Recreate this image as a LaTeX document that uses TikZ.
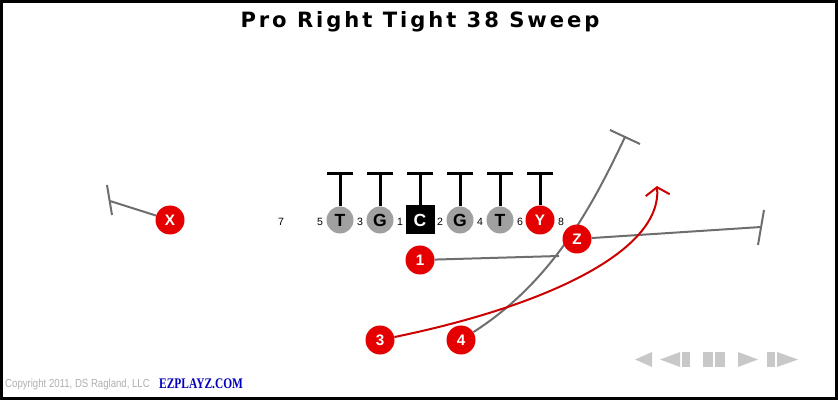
\documentclass[tikz,border=0pt]{standalone}
\usepackage{fontspec}
\setmainfont{Liberation Sans}
\newfontfamily\titlefont[LetterSpace=14]{DejaVu Sans}
\newfontfamily\narrowfont[FakeStretch=0.82]{Liberation Sans}
\newfontfamily\ezfont[FakeStretch=0.78]{Liberation Serif}
\usetikzlibrary{arrows.meta,backgrounds}
\definecolor{playred}{RGB}{228,0,0}
\definecolor{manGray}{RGB}{160,160,160}
\definecolor{routeGray}{RGB}{110,110,110}
\definecolor{iconGray}{RGB}{200,200,200}
\definecolor{copyGray}{RGB}{175,175,175}
\definecolor{ezBlue}{RGB}{0,0,190}
\begin{document}
\begin{tikzpicture}[x=0.03cm,y=-0.03cm,
    redman/.style={circle, fill=playred, text=white, inner sep=0pt, minimum size=0.87cm,
        font=\bfseries\fontsize{13}{13}\selectfont},
    lineman/.style={circle, fill=manGray, text=black, inner sep=0pt, minimum size=0.81cm,
        font=\bfseries\fontsize{15}{15}\selectfont},
    center/.style={rectangle, fill=black, text=white, inner sep=0pt, minimum size=0.87cm,
        font=\bfseries\fontsize{15}{15}\selectfont},
    gapnum/.style={font=\fontsize{9}{9}\selectfont, inner sep=0pt},
    block/.style={line width=0.09cm},
    route/.style={draw=routeGray, line width=0.06cm},
    redroute/.style={draw=playred!90!black, line width=0.06cm, -{Straight Barb[length=0.24cm, width=0.72cm]}},
    icon/.style={fill=iconGray}]
\useasboundingbox (0,0) rectangle (838,400);
\draw[line width=0.09cm] (1.5,1.5) rectangle (836.5,398.5);

\node[font=\titlefont\bfseries\fontsize{18}{18}\selectfont] (title) at (420,22) {Pro Right Tight 38 Sweep};

\node[lineman] (LT) at (340,220) {T};
\node[lineman] (LG) at (380,220) {G};
\node[center] (C) at (420,220) {C};
\node[lineman] (RG) at (460,220) {G};
\node[lineman] (RT) at (500,220) {T};
\node[redman] (Y) at (540,220) {Y};
\node[redman] (X) at (170,220) {X};
\node[redman] (Z) at (577,239) {Z};
\node[redman] (n1) at (420,260) {1};
\node[redman] (n3) at (380,340) {3};
\node[redman] (n4) at (461,340) {4};

\node[gapnum] (g7) at (281,222) {7};
\node[gapnum] (g5) at (320,222) {5};
\node[gapnum] (g3) at (360,222) {3};
\node[gapnum] (g1) at (400,222) {1};
\node[gapnum] (g2) at (440,222) {2};
\node[gapnum] (g4) at (480,222) {4};
\node[gapnum] (g6) at (520,222) {6};
\node[gapnum] (g8) at (561,222) {8};

\coordinate (bLT) at (340,174);
\coordinate (bLG) at (380,174);
\coordinate (bC) at (420,174);
\coordinate (bRG) at (460,174);
\coordinate (bRT) at (500,174);
\coordinate (bY) at (540,174);
\draw[block] (LT) -- (bLT) +(-13,0) -- +(13,0);
\draw[block] (LG) -- (bLG) +(-13,0) -- +(13,0);
\draw[block] (C) -- (bC) +(-13,0) -- +(13,0);
\draw[block] (RG) -- (bRG) +(-13,0) -- +(13,0);
\draw[block] (RT) -- (bRT) +(-13,0) -- +(13,0);
\draw[block] (Y) -- (bY) +(-13,0) -- +(13,0);

\coordinate (eX) at (110,201);
\coordinate (eZ) at (761,227);
\coordinate (e1) at (559,256);
\coordinate (e3) at (657,186);
\coordinate (e4) at (625,137);
\begin{scope}[on background layer]
    \draw[route] (X) -- (eX) +(-3,-16) -- +(2,14);
    \draw[route] (Z) -- (eZ) +(3,-17) -- +(-3,18);
    \draw[route] (n1) -- (e1);
    \draw[route] (n4) .. controls (555,280) and (595,200) .. (e4) +(-15,-7) -- +(15,7);
    \draw[redroute] (n3) .. controls (550,305) and (662,250) .. (e3);
\end{scope}

\fill[icon] (635,359.5) -- (652,352) -- (652,367) -- cycle;
\fill[icon] (660,359.5) -- (680,352) -- (680,367) -- cycle;
\fill[icon] (682,352) rectangle (690,367);
\fill[icon] (703,352) rectangle (713,367);
\fill[icon] (715,352) rectangle (725,367);
\fill[icon] (738,352) -- (758,359.5) -- (738,367) -- cycle;
\fill[icon] (767,352) rectangle (775,367);
\fill[icon] (777,352) -- (798,359.5) -- (777,367) -- cycle;

\node[anchor=west, text=copyGray, font=\narrowfont\fontsize{10}{10}\selectfont, inner sep=0pt] (copy) at (5,384) {Copyright 2011, DS Ragland, LLC};
\node[anchor=west, text=ezBlue, font=\ezfont\bfseries\fontsize{12.5}{12.5}\selectfont, inner sep=0pt] (ez) at (159,384) {EZPLAYZ.COM};
\end{tikzpicture}
\end{document}
